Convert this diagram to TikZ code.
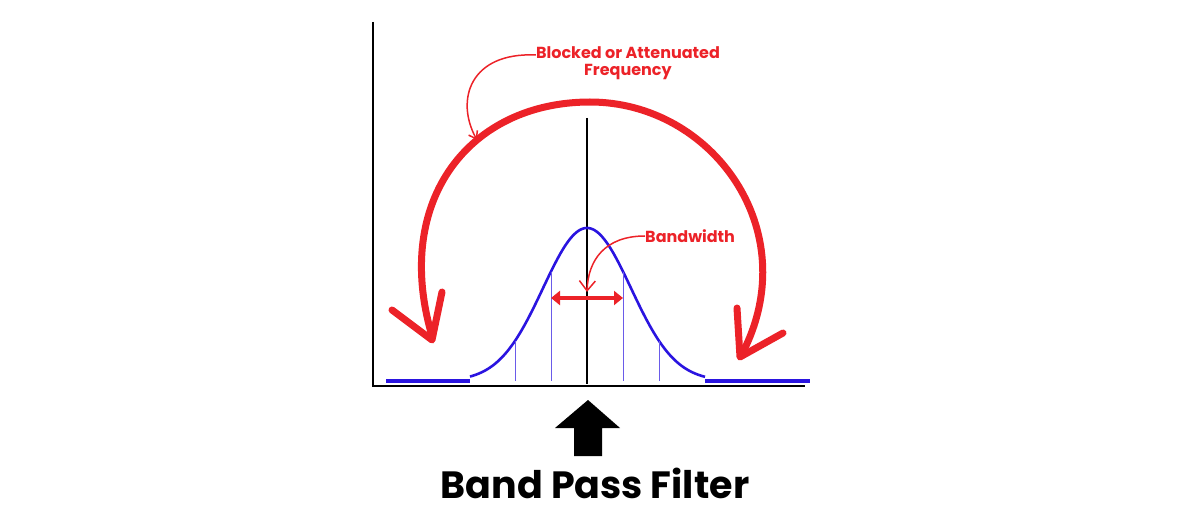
\documentclass[tikz,border=0pt]{standalone}
\usepackage{fontspec}
\setmainfont{Poppins}
\usetikzlibrary{arrows.meta}
\definecolor{rd}{HTML}{EC2228}
\definecolor{bl}{HTML}{2A14E0}
\tikzset{
  axis/.style={black,line width=2pt},
  bigarc/.style={rd,line width=7pt,line cap=round,line join=round},
  thinred/.style={rd,line width=1.5pt},
  lbl/.style={text=rd,font=\bfseries\fontsize{16}{17}\selectfont,align=center,inner sep=0pt},
}
\begin{document}
\begin{tikzpicture}[x=1pt,y=-1pt]
\useasboundingbox (0,0) rectangle (1200,521);
% axes
\coordinate (ytop) at (373,22); \coordinate (org) at (373,386); \coordinate (xend) at (805,386);
\draw[axis] (ytop) -- (org) -- (xend);
\coordinate (ct) at (587,118); \coordinate (cb) at (587,384);
\draw[axis] (ct) -- (cb);
% gaussian
\draw[bl,line width=3.5pt] (386,381) -- (470,381);
\draw[bl,line width=3.5pt] (705,381) -- (810,381);
\draw[bl,line width=2.6pt,domain=470:705,samples=120,smooth] plot (\x,{381-153*exp(-((\x-587)^2)/(2*44*44))});
\foreach \d in {-72,-36,36,72}{
  \draw[bl!70,line width=0.9pt] ({587+\d},381) -- ({587+\d},{381-153*exp(-(\d*\d)/(2*44*44))});
}
% big red arc
\draw[bigarc] (432,336) .. controls (392,200) and (470,102) .. (590,102) .. controls (712,102) and (805,230) .. (743,352);
\draw[bigarc] (392,310) -- (432,340) -- (442,292);
\draw[bigarc] (737,308) -- (740,357) -- (783,333);
% label top
\node[lbl] (blk) at (628,63) {Blocked or Attenuated\\Frequency};
\coordinate (a1) at (477,140);
\draw[thinred,-{Straight Barb[length=7pt,width=10pt]}] (blk.west|-0,55) .. controls (470,52) and (455,100) .. (a1);
% bandwidth
\node[lbl,anchor=west] (bw) at (645,236) {Bandwidth};
\coordinate (bwt) at (587,292);
\draw[thinred,-{Straight Barb[length=10pt,width=16pt]}] (bw.west) .. controls (605,236) and (588,260) .. (bwt);
\coordinate (l1) at (551,298); \coordinate (r1) at (623,298);
\draw[rd,line width=4pt,{Triangle[length=9pt,width=14pt]}-{Triangle[length=9pt,width=14pt]}] (l1) -- (r1);
% big black arrow
\fill[black] (574,456) -- (574,428) -- (555,428) -- (588,400) -- (620,428) -- (602,428) -- (602,456) -- cycle;
\node[font=\bfseries\fontsize{38}{40}\selectfont,inner sep=0pt] (title) at (595,483) {Band Pass Filter};
\end{tikzpicture}
\end{document}
